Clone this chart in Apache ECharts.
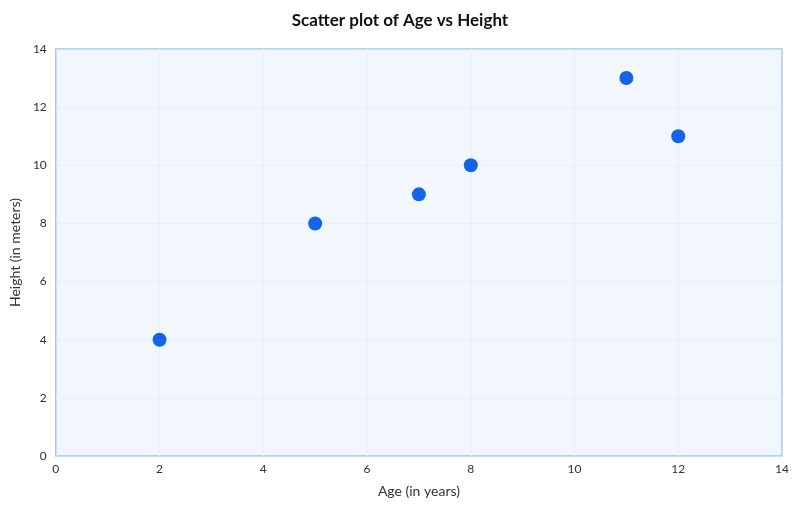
<!DOCTYPE html>
<html><head><meta charset="utf-8">
<script src="https://cdn.jsdelivr.net/npm/echarts@6/dist/echarts.min.js"></script>
<style>html,body{margin:0;padding:0;background:#fff}#c{width:800px;height:508px}</style>
</head><body><div id="c"></div>
<script>
const ages = [2, 5, 7, 8, 11, 12];
const heights = [4, 8, 9, 10, 13, 11];
const titleText = 'Scatter plot of Age vs Height';
const xName = 'Age (in years)';
const yName = 'Height (in meters)';

const chart = echarts.init(document.getElementById('c'));
const font = 'Lato, "Noto Sans", sans-serif';
chart.setOption({
  animation: false,
  backgroundColor: '#ffffff',
  title: {
    text: titleText, left: 'center', top: 7,
    textStyle: {fontFamily: font, fontSize: 17, fontWeight: 'bold', color: '#111'}
  },
  grid: {
    left: 53, right: 18, top: 49, bottom: 52,
    show: true, backgroundColor: '#f2f7fe', borderColor: '#9ec3f5', borderWidth: 1.5
  },
  xAxis: {
    type: 'value', min: 0, max: 14, interval: 2,
    name: xName, nameLocation: 'middle', nameGap: 28,
    nameTextStyle: {fontFamily: font, fontSize: 14, color: '#333'},
    axisLine: {show: false}, axisTick: {show: false},
    axisLabel: {fontFamily: font, fontSize: 12, color: '#333', margin: 7},
    splitLine: {show: true, lineStyle: {color: '#e3e8f0', type: 'dotted'}}
  },
  yAxis: {
    type: 'value', min: 0, max: 14, interval: 2,
    name: yName, nameLocation: 'middle', nameGap: 31,
    nameTextStyle: {fontFamily: font, fontSize: 14, color: '#333'},
    axisLine: {show: false}, axisTick: {show: false},
    axisLabel: {fontFamily: font, fontSize: 12, color: '#333', margin: 9},
    splitLine: {show: true, lineStyle: {color: '#e3e8f0', type: 'dotted'}}
  },
  series: [{
    type: 'scatter',
    data: ages.map((a, i) => [a, heights[i]]),
    symbolSize: 14,
    itemStyle: {color: '#1463e8', opacity: 1}
  }]
});
</script></body></html>
